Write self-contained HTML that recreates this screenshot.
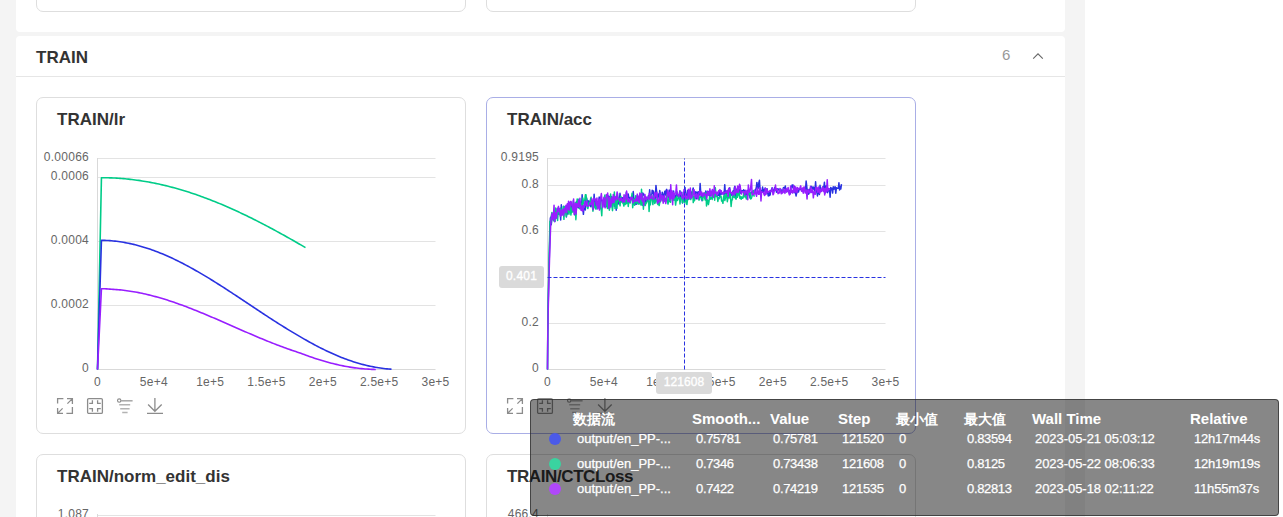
<!DOCTYPE html>
<html><head><meta charset="utf-8">
<style>
html,body{margin:0;padding:0;width:1283px;height:517px;overflow:hidden;background:#fff;font-family:"Liberation Sans",sans-serif;}
.a{position:absolute;}
.card{position:absolute;box-sizing:border-box;border:1px solid #dedede;border-radius:7px;background:#fff;}
.title{position:absolute;font-weight:bold;font-size:17px;color:#333;line-height:20px;white-space:nowrap;}
.tt{position:absolute;white-space:nowrap;color:#fff;line-height:16px;}
.th{font-weight:bold;font-size:15px;}
.td{font-size:13px;-webkit-text-stroke:0.25px #fff;}
.dot{position:absolute;width:12px;height:12px;border-radius:50%;}
</style></head><body>
<div class="a" style="left:0;top:0;width:1085px;height:517px;background:#f4f4f4"></div>
<div class="a" style="left:16px;top:-10px;width:1049px;height:42px;background:#fff;border-radius:4px"></div>
<div class="card" style="left:36px;top:-20px;width:430px;height:32px"></div>
<div class="card" style="left:486px;top:-20px;width:430px;height:32px"></div>
<div class="a" style="left:16px;top:36px;width:1049px;height:520px;background:#fff;border-radius:4px"></div>
<div class="title" style="left:36px;top:48px">TRAIN</div>
<div class="a" style="left:16px;top:76px;width:1049px;height:1px;background:#e6e6e6"></div>
<div class="a" style="left:1002px;top:46px;font-size:15px;color:#999;line-height:18px">6</div>
<svg class="a" style="left:1031px;top:51px" width="14" height="10"><path d="M2.2,7.6 L7,2.8 L11.8,7.6" fill="none" stroke="#666" stroke-width="1.1"/></svg>
<div class="card" style="left:36px;top:97px;width:430px;height:337px"></div>
<div class="card" style="left:486px;top:97px;width:430px;height:337px;border-color:#a9aee6"></div>
<div class="card" style="left:36px;top:454px;width:430px;height:200px"></div>
<div class="card" style="left:486px;top:454px;width:430px;height:200px"></div>
<div class="title" style="left:57px;top:110px">TRAIN/lr</div>
<div class="title" style="left:507px;top:110px">TRAIN/acc</div>
<div class="title" style="left:57px;top:467px">TRAIN/norm_edit_dis</div>
<div class="title" style="left:507px;top:467px;letter-spacing:-0.4px">TRAIN/CTCLoss</div>
<svg width="1283" height="517" style="position:absolute;left:0;top:0">
<g font-family="Liberation Sans, sans-serif" font-size="12" fill="#666" letter-spacing="0.25">
<line x1="97.5" y1="158.5" x2="435.5" y2="158.5" stroke="#e3e3e3" stroke-width="1"/><line x1="97.5" y1="177.5" x2="435.5" y2="177.5" stroke="#e3e3e3" stroke-width="1"/><line x1="97.5" y1="241.5" x2="435.5" y2="241.5" stroke="#e3e3e3" stroke-width="1"/><line x1="97.5" y1="305.5" x2="435.5" y2="305.5" stroke="#e3e3e3" stroke-width="1"/>
<line x1="97.5" y1="369.5" x2="435.5" y2="369.5" stroke="#d9d9d9"/>
<line x1="97.5" y1="158" x2="97.5" y2="369.5" stroke="#d9d9d9"/>
<text x="89" y="160.8" text-anchor="end">0.00066</text><text x="89" y="180.0" text-anchor="end">0.0006</text><text x="89" y="243.9" text-anchor="end">0.0004</text><text x="89" y="307.9" text-anchor="end">0.0002</text><text x="89" y="371.8" text-anchor="end">0</text>
<text x="97.5" y="385.5" text-anchor="middle">0</text><text x="153.8" y="385.5" text-anchor="middle">5e+4</text><text x="210.2" y="385.5" text-anchor="middle">1e+5</text><text x="266.5" y="385.5" text-anchor="middle">1.5e+5</text><text x="322.8" y="385.5" text-anchor="middle">2e+5</text><text x="379.2" y="385.5" text-anchor="middle">2.5e+5</text><text x="435.5" y="385.5" text-anchor="middle">3e+5</text>
<line x1="547.5" y1="158.5" x2="885.5" y2="158.5" stroke="#e3e3e3" stroke-width="1"/><line x1="547.5" y1="185.5" x2="885.5" y2="185.5" stroke="#e3e3e3" stroke-width="1"/><line x1="547.5" y1="231.5" x2="885.5" y2="231.5" stroke="#e3e3e3" stroke-width="1"/><line x1="547.5" y1="323.5" x2="885.5" y2="323.5" stroke="#e3e3e3" stroke-width="1"/>
<line x1="547.5" y1="369.5" x2="885.5" y2="369.5" stroke="#d9d9d9"/>
<line x1="547.5" y1="158" x2="547.5" y2="369.5" stroke="#d9d9d9"/>
<text x="539" y="160.8" text-anchor="end">0.9195</text><text x="539" y="188.2" text-anchor="end">0.8</text><text x="539" y="234.1" text-anchor="end">0.6</text><text x="539" y="325.9" text-anchor="end">0.2</text><text x="539" y="371.8" text-anchor="end">0</text>
<text x="547.5" y="385.5" text-anchor="middle">0</text><text x="603.8" y="385.5" text-anchor="middle">5e+4</text><text x="660.2" y="385.5" text-anchor="middle">1e+5</text><text x="716.5" y="385.5" text-anchor="middle">1.5e+5</text><text x="772.8" y="385.5" text-anchor="middle">2e+5</text><text x="829.2" y="385.5" text-anchor="middle">2.5e+5</text><text x="885.5" y="385.5" text-anchor="middle">3e+5</text>
</g>
<polyline fill="none" stroke="#00CC88" stroke-width="1.6" stroke-linejoin="round" points="97.50,369.50 101.44,177.68 103.13,177.69 104.82,177.71 106.51,177.74 108.20,177.79 109.89,177.84 111.58,177.90 113.27,177.98 114.96,178.06 116.65,178.16 118.34,178.27 120.03,178.39 121.72,178.52 123.41,178.66 125.10,178.81 126.79,178.97 128.48,179.15 130.17,179.33 131.86,179.52 133.55,179.73 135.24,179.95 136.93,180.17 138.62,180.41 140.31,180.66 142.00,180.92 143.69,181.19 145.38,181.47 147.07,181.76 148.76,182.06 150.45,182.38 152.14,182.70 153.83,183.03 155.52,183.38 157.21,183.73 158.90,184.09 160.59,184.47 162.28,184.85 163.97,185.25 165.66,185.65 167.35,186.07 169.04,186.49 170.73,186.93 172.42,187.37 174.11,187.83 175.80,188.29 177.49,188.77 179.18,189.25 180.87,189.74 182.56,190.25 184.25,190.76 185.94,191.28 187.63,191.81 189.32,192.36 191.01,192.91 192.70,193.47 194.39,194.04 196.08,194.61 197.77,195.20 199.46,195.80 201.15,196.40 202.84,197.02 204.53,197.64 206.22,198.27 207.91,198.91 209.60,199.56 211.29,200.22 212.98,200.88 214.67,201.56 216.36,202.24 218.05,202.93 219.74,203.63 221.43,204.34 223.12,205.05 224.81,205.77 226.50,206.50 228.19,207.24 229.88,207.99 231.57,208.74 233.26,209.50 234.95,210.27 236.64,211.04 238.33,211.83 240.02,212.61 241.71,213.41 243.40,214.21 245.09,215.02 246.78,215.84 248.47,216.66 250.16,217.49 251.85,218.33 253.54,219.17 255.23,220.02 256.92,220.88 258.61,221.74 260.30,222.61 261.99,223.48 263.68,224.36 265.37,225.24 267.06,226.13 268.75,227.03 270.44,227.93 272.13,228.83 273.82,229.74 275.51,230.66 277.20,231.58 278.89,232.51 280.58,233.44 282.27,234.37 283.96,235.31 285.65,236.26 287.34,237.20 289.03,238.16 290.72,239.11 292.41,240.07 294.10,241.04 295.79,242.01 297.48,242.98 299.17,243.95 300.86,244.93 302.55,245.91 304.24,246.90 305.48,247.62"/><polyline fill="none" stroke="#2932E1" stroke-width="1.6" stroke-linejoin="round" points="97.50,369.50 101.44,240.34 103.13,240.35 104.82,240.37 106.51,240.44 108.20,240.54 109.89,240.66 111.58,240.80 113.27,240.96 114.96,241.13 116.65,241.33 118.34,241.55 120.03,241.79 121.72,242.05 123.41,242.32 125.10,242.62 126.79,242.94 128.48,243.28 130.17,243.63 131.86,244.01 133.55,244.40 135.24,244.81 136.93,245.25 138.62,245.70 140.31,246.16 142.00,246.65 143.69,247.16 145.38,247.68 147.07,248.22 148.76,248.78 150.45,249.36 152.14,249.95 153.83,250.56 155.52,251.19 157.21,251.83 158.90,252.49 160.59,253.17 162.28,253.86 163.97,254.57 165.66,255.29 167.35,256.03 169.04,256.78 170.73,257.55 172.42,258.33 174.11,259.13 175.80,259.94 177.49,260.77 179.18,261.61 180.87,262.46 182.56,263.32 184.25,264.20 185.94,265.09 187.63,265.99 189.32,266.91 191.01,267.83 192.70,268.77 194.39,269.72 196.08,270.68 197.77,271.64 199.46,272.62 201.15,273.61 202.84,274.61 204.53,275.62 206.22,276.63 207.91,277.65 209.60,278.69 211.29,279.73 212.98,280.77 214.67,281.83 216.36,282.89 218.05,283.96 219.74,285.03 221.43,286.11 223.12,287.19 224.81,288.29 226.50,289.38 228.19,290.48 229.88,291.58 231.57,292.69 233.26,293.80 234.95,294.91 236.64,296.03 238.33,297.15 240.02,298.27 241.71,299.39 243.40,300.52 245.09,301.64 246.78,302.77 248.47,303.89 250.16,305.02 251.85,306.14 253.54,307.27 255.23,308.39 256.92,309.51 258.61,310.63 260.30,311.75 261.99,312.87 263.68,313.98 265.37,315.09 267.06,316.20 268.75,317.30 270.44,318.40 272.13,319.49 273.82,320.58 275.51,321.66 277.20,322.74 278.89,323.82 280.58,324.88 282.27,325.94 283.96,327.00 285.65,328.04 287.34,329.08 289.03,330.11 290.72,331.13 292.41,332.15 294.10,333.15 295.79,334.15 297.48,335.14 299.17,336.12 300.86,337.10 302.55,338.09 304.24,339.07 305.93,340.04 307.62,341.00 309.31,341.94 311.00,342.88 312.69,343.80 314.38,344.71 316.07,345.61 317.76,346.50 319.45,347.37 321.14,348.23 322.83,349.07 324.52,349.90 326.21,350.72 327.90,351.52 329.59,352.31 331.28,353.08 332.97,353.84 334.66,354.58 336.35,355.31 338.04,356.02 339.73,356.71 341.42,357.39 343.11,358.05 344.80,358.70 346.49,359.32 348.18,359.93 349.87,360.53 351.56,361.10 353.25,361.66 354.94,362.20 356.63,362.72 358.32,363.22 360.01,363.71 361.70,364.17 363.39,364.62 365.08,365.05 366.77,365.46 368.46,365.85 370.15,366.22 371.84,366.57 373.53,366.90 375.22,367.22 376.91,367.51 378.60,367.78 380.29,368.04 381.98,368.27 383.67,368.48 385.36,368.67 387.05,368.85 388.74,369.00 390.43,369.13 391.56,369.21"/><polyline fill="none" stroke="#981EFF" stroke-width="1.6" stroke-linejoin="round" points="97.50,369.50 101.44,288.78 103.13,288.78 104.82,288.78 106.51,288.88 108.20,289.00 109.89,289.12 111.58,289.23 113.27,289.35 114.96,289.46 116.65,289.59 118.34,289.74 120.03,289.90 121.72,290.07 123.41,290.26 125.10,290.47 126.79,290.69 128.48,290.93 130.17,291.18 131.86,291.44 133.55,291.72 135.24,292.02 136.93,292.33 138.62,292.65 140.31,292.99 142.00,293.34 143.69,293.70 145.38,294.08 147.07,294.47 148.76,294.87 150.45,295.29 152.14,295.72 153.83,296.16 155.52,296.61 157.21,297.08 158.90,297.56 160.59,298.05 162.28,298.55 163.97,299.06 165.66,299.58 167.35,300.11 169.04,300.66 170.73,301.21 172.42,301.78 174.11,302.35 175.80,302.93 177.49,303.52 179.18,304.13 180.87,304.74 182.56,305.35 184.25,305.98 185.94,306.61 187.63,307.26 189.32,307.91 191.01,308.56 192.70,309.23 194.39,309.90 196.08,310.57 197.77,311.26 199.46,311.94 201.15,312.64 202.84,313.34 204.53,314.04 206.22,314.75 207.91,315.46 209.60,316.18 211.29,316.90 212.98,317.62 214.67,318.35 216.36,319.08 218.05,319.81 219.74,320.54 221.43,321.28 223.12,322.02 224.81,322.76 226.50,323.50 228.19,324.24 229.88,324.99 231.57,325.73 233.26,326.47 234.95,327.22 236.64,327.96 238.33,328.70 240.02,329.44 241.71,330.18 243.40,330.92 245.09,331.66 246.78,332.39 248.47,333.12 250.16,333.85 251.85,334.58 253.54,335.30 255.23,336.02 256.92,336.73 258.61,337.44 260.30,338.15 261.99,338.85 263.68,339.55 265.37,340.25 267.06,340.93 268.75,341.62 270.44,342.29 272.13,342.96 273.82,343.63 275.51,344.29 277.20,344.94 278.89,345.58 280.58,346.22 282.27,346.85 283.96,347.47 285.65,348.09 287.34,348.69 289.03,349.29 290.72,349.88 292.41,350.46 294.10,351.04 295.79,351.60 297.48,352.16 299.17,352.70 300.86,353.30 302.55,353.94 304.24,354.57 305.93,355.20 307.62,355.81 309.31,356.41 311.00,357.00 312.69,357.58 314.38,358.15 316.07,358.71 317.76,359.25 319.45,359.79 321.14,360.31 322.83,360.81 324.52,361.31 326.21,361.79 327.90,362.26 329.59,362.72 331.28,363.16 332.97,363.59 334.66,364.00 336.35,364.40 338.04,364.79 339.73,365.16 341.42,365.52 343.11,365.86 344.80,366.19 346.49,366.50 348.18,366.80 349.87,367.09 351.56,367.35 353.25,367.61 354.94,367.84 356.63,368.07 358.32,368.27 360.01,368.46 361.70,368.64 363.39,368.80 365.08,368.94 366.77,369.06 368.46,369.17 370.15,369.27 371.84,369.35 373.53,369.41 375.22,369.46 375.79,369.47"/>
<polyline fill="none" stroke="#2932E1" stroke-width="1.5" stroke-linejoin="round" points="547.50,369.50 547.78,332.55 548.06,313.50 548.35,298.07 548.63,284.62 548.91,272.46 549.19,261.24 549.47,250.75 549.75,240.84 550.03,231.42 550.32,218.62 550.60,217.37 551.23,224.69 551.86,219.71 552.49,218.14 553.12,217.49 553.75,217.15 554.38,216.68 555.01,214.73 555.65,213.99 556.28,214.95 556.91,214.54 557.54,208.36 558.17,214.29 558.80,208.85 559.43,214.02 560.06,211.47 560.69,219.95 561.32,204.78 561.96,214.82 562.59,211.16 563.22,213.17 563.85,206.22 564.48,210.49 565.11,207.73 565.74,210.46 566.37,216.98 567.00,208.78 567.63,214.02 568.26,207.67 568.90,212.74 569.53,202.83 570.16,203.53 570.79,204.99 571.42,205.61 572.05,209.81 572.68,209.24 573.31,200.79 573.94,207.78 574.57,214.86 575.20,212.55 575.84,207.67 576.47,201.80 577.10,207.02 577.73,206.57 578.36,207.88 578.99,201.40 579.62,201.05 580.25,208.09 580.88,204.50 581.51,209.82 582.14,194.65 582.78,207.65 583.41,214.32 584.04,206.90 584.67,207.15 585.30,209.94 585.93,198.96 586.56,197.85 587.19,200.82 587.82,203.98 588.45,200.87 589.09,203.74 589.72,201.26 590.35,205.60 590.98,206.78 591.61,204.40 592.24,202.68 592.87,201.91 593.50,204.87 594.13,194.24 594.76,203.52 595.39,208.58 596.03,198.96 596.66,205.37 597.29,202.06 597.92,205.16 598.55,205.31 599.18,197.01 599.81,200.66 600.44,206.09 601.07,199.09 601.70,200.16 602.33,200.87 602.97,201.68 603.60,199.30 604.23,206.64 604.86,203.16 605.49,197.99 606.12,202.76 606.75,206.70 607.38,204.85 608.01,199.22 608.64,195.95 609.28,196.71 609.91,197.47 610.54,203.06 611.17,201.41 611.80,196.53 612.43,204.38 613.06,202.10 613.69,198.80 614.32,206.29 614.95,201.71 615.58,199.21 616.22,210.18 616.85,196.24 617.48,193.54 618.11,204.11 618.74,202.75 619.37,200.81 620.00,193.25 620.63,197.86 621.26,200.11 621.89,197.83 622.52,198.63 623.16,197.55 623.79,201.23 624.42,201.57 625.05,195.95 625.68,199.28 626.31,192.25 626.94,200.84 627.57,197.81 628.20,193.92 628.83,197.98 629.47,197.63 630.10,198.78 630.73,199.46 631.36,197.40 631.99,198.10 632.62,199.38 633.25,191.53 633.88,199.10 634.51,199.18 635.14,204.44 635.77,196.18 636.41,204.24 637.04,199.93 637.67,195.69 638.30,200.13 638.93,199.40 639.56,196.34 640.19,203.47 640.82,198.47 641.45,195.80 642.08,200.69 642.71,193.01 643.35,193.90 643.98,195.02 644.61,196.20 645.24,197.15 645.87,202.70 646.50,200.01 647.13,200.87 647.76,200.18 648.39,195.69 649.02,199.44 649.65,189.87 650.29,197.21 650.92,195.48 651.55,197.79 652.18,190.26 652.81,193.16 653.44,191.08 654.07,196.85 654.70,202.70 655.33,196.83 655.96,185.40 656.60,191.30 657.23,199.17 657.86,199.06 658.49,194.12 659.12,196.16 659.75,190.58 660.38,194.23 661.01,197.15 661.64,198.64 662.27,192.19 662.90,194.46 663.54,200.70 664.17,195.23 664.80,191.36 665.43,195.09 666.06,190.39 666.69,189.40 667.32,194.91 667.95,194.38 668.58,197.82 669.21,189.99 669.84,196.61 670.48,196.82 671.11,191.03 671.74,196.40 672.37,195.73 673.00,199.13 673.63,190.97 674.26,197.28 674.89,199.91 675.52,195.35 676.15,196.03 676.78,191.61 677.42,196.02 678.05,194.60 678.68,197.47 679.31,195.02 679.94,190.68 680.57,196.27 681.20,197.72 681.83,192.24 682.46,203.01 683.09,196.97 683.73,194.58 684.36,193.26 684.99,187.43 685.62,195.56 686.25,194.84 686.88,195.40 687.51,190.56 688.14,199.44 688.77,191.84 689.40,195.78 690.03,193.54 690.67,191.42 691.30,195.29 691.93,195.93 692.56,190.92 693.19,188.00 693.82,193.92 694.45,191.93 695.08,193.25 695.71,191.75 696.34,198.85 696.97,192.13 697.61,195.54 698.24,191.65 698.87,192.48 699.50,194.96 700.13,183.48 700.76,193.16 701.39,193.16 702.02,200.64 702.65,195.61 703.28,194.55 703.92,193.63 704.55,193.52 705.18,194.35 705.81,190.97 706.44,197.14 707.07,193.20 707.70,191.27 708.33,193.27 708.96,191.82 709.59,195.97 710.22,191.90 710.86,195.48 711.49,193.71 712.12,191.68 712.75,193.26 713.38,192.93 714.01,197.26 714.64,190.20 715.27,189.63 715.90,195.51 716.53,195.29 717.16,195.76 717.80,195.37 718.43,195.47 719.06,190.40 719.69,196.36 720.32,193.95 720.95,191.17 721.58,194.13 722.21,193.11 722.84,193.43 723.47,192.50 724.11,194.70 724.74,184.66 725.37,192.95 726.00,193.99 726.63,192.87 727.26,190.42 727.89,192.95 728.52,191.65 729.15,193.93 729.78,187.87 730.41,194.60 731.05,195.54 731.68,193.70 732.31,193.43 732.94,191.06 733.57,197.01 734.20,188.50 734.83,186.20 735.46,196.75 736.09,188.95 736.72,192.24 737.35,191.17 737.99,194.89 738.62,193.58 739.25,189.51 739.88,192.90 740.51,189.94 741.14,193.56 741.77,190.72 742.40,190.83 743.03,191.59 743.66,189.78 744.29,194.52 744.93,190.60 745.56,194.71 746.19,191.67 746.82,195.02 747.45,190.48 748.08,190.92 748.71,190.19 749.34,191.63 749.97,197.98 750.60,193.85 751.24,192.27 751.87,192.70 752.50,191.51 753.13,191.28 753.76,191.47 754.39,190.36 755.02,193.02 755.65,189.92 756.28,187.54 756.91,182.42 757.54,188.65 758.18,188.39 758.81,182.85 759.44,180.33 760.07,189.63 760.70,192.61 761.33,190.62 761.96,191.98 762.59,187.03 763.22,192.03 763.85,189.56 764.48,191.03 765.12,188.07 765.75,194.25 766.38,189.53 767.01,188.68 767.64,192.62 768.27,195.94 768.90,192.12 769.53,195.59 770.16,194.80 770.79,190.27 771.42,190.45 772.06,187.81 772.69,189.96 773.32,191.85 773.95,190.82 774.58,187.57 775.21,190.09 775.84,188.81 776.47,192.16 777.10,190.71 777.73,188.72 778.37,189.06 779.00,190.03 779.63,191.43 780.26,189.86 780.89,189.18 781.52,192.74 782.15,192.72 782.78,190.66 783.41,187.76 784.04,187.58 784.67,188.87 785.31,185.97 785.94,190.49 786.57,191.86 787.20,191.34 787.83,189.77 788.46,189.55 789.09,192.87 789.72,190.82 790.35,193.63 790.98,187.46 791.61,186.44 792.25,184.84 792.88,187.73 793.51,185.14 794.14,192.65 794.77,186.79 795.40,191.93 796.03,196.01 796.66,193.13 797.29,190.13 797.92,192.06 798.56,191.97 799.19,188.69 799.82,189.43 800.45,188.97 801.08,188.87 801.71,190.70 802.34,189.04 802.97,189.63 803.60,188.64 804.23,188.88 804.86,189.16 805.50,189.47 806.13,181.07 806.76,186.19 807.39,193.51 808.02,189.47 808.65,194.14 809.28,189.57 809.91,192.75 810.54,186.37 811.17,186.19 811.80,187.96 812.44,187.16 813.07,189.51 813.70,187.14 814.33,188.31 814.96,191.26 815.59,181.86 816.22,190.51 816.85,192.24 817.48,195.89 818.11,190.00 818.75,193.38 819.38,194.48 820.01,185.23 820.64,191.11 821.27,191.31 821.90,190.46 822.53,187.22 823.16,186.75 823.79,187.28 824.42,182.35 825.05,193.08 825.69,186.65 826.32,185.70 826.95,191.90 827.58,192.63 828.21,188.46 828.84,190.96 829.47,188.99 830.10,197.27 830.73,187.57 831.36,189.83 831.99,188.39 832.63,193.03 833.26,186.71 833.89,189.34 834.52,187.33 835.15,186.78 835.78,193.19 836.41,187.81 837.04,188.48 837.67,188.09 838.30,188.29 838.93,182.83 839.57,189.95 840.20,186.48 840.83,188.97 841.46,184.06"/><polyline fill="none" stroke="#00CC88" stroke-width="1.5" stroke-linejoin="round" points="547.50,369.50 547.78,329.61 548.06,309.03 548.35,292.38 548.63,277.85 548.91,264.72 549.19,252.61 549.47,241.28 549.75,230.58 550.03,221.21 550.67,223.57 551.30,216.22 551.93,212.40 552.56,217.50 553.19,215.93 553.82,220.82 554.45,221.04 555.08,221.43 555.71,207.96 556.34,211.52 556.98,216.33 557.61,220.41 558.24,209.12 558.87,212.21 559.50,209.76 560.13,214.82 560.76,207.97 561.39,215.06 562.02,209.67 562.65,214.18 563.28,206.62 563.92,219.35 564.55,206.87 565.18,211.51 565.81,212.08 566.44,216.29 567.07,209.94 567.70,206.18 568.33,210.97 568.96,214.17 569.59,207.09 570.22,204.47 570.86,215.02 571.49,211.36 572.12,207.60 572.75,212.06 573.38,209.46 574.01,208.13 574.64,211.84 575.27,202.46 575.90,219.63 576.53,205.33 577.17,199.12 577.80,205.77 578.43,199.17 579.06,204.96 579.69,208.81 580.32,203.84 580.95,203.59 581.58,206.27 582.21,205.36 582.84,197.98 583.47,203.87 584.11,200.30 584.74,200.28 585.37,194.83 586.00,194.70 586.63,200.71 587.26,207.44 587.89,208.57 588.52,205.09 589.15,202.45 589.78,204.34 590.41,199.76 591.05,197.34 591.68,204.50 592.31,205.55 592.94,211.16 593.57,205.45 594.20,202.28 594.83,206.95 595.46,207.75 596.09,209.10 596.72,204.41 597.36,202.37 597.99,203.31 598.62,204.03 599.25,203.68 599.88,200.13 600.51,208.63 601.14,208.51 601.77,215.71 602.40,201.75 603.03,201.43 603.66,200.03 604.30,197.66 604.93,194.91 605.56,206.54 606.19,202.77 606.82,195.71 607.45,208.46 608.08,200.10 608.71,203.58 609.34,210.22 609.97,207.07 610.60,194.06 611.24,201.92 611.87,206.00 612.50,210.62 613.13,204.30 613.76,201.94 614.39,191.89 615.02,208.49 615.65,201.45 616.28,198.07 616.91,208.34 617.54,196.61 618.18,200.85 618.81,198.14 619.44,202.30 620.07,205.86 620.70,196.30 621.33,198.93 621.96,202.47 622.59,202.88 623.22,202.78 623.85,206.10 624.49,201.18 625.12,204.60 625.75,195.89 626.38,203.64 627.01,202.56 627.64,199.38 628.27,206.44 628.90,199.41 629.53,201.02 630.16,203.03 630.79,199.40 631.43,198.68 632.06,193.33 632.69,207.73 633.32,202.12 633.95,198.98 634.58,205.19 635.21,199.72 635.84,195.78 636.47,202.97 637.10,201.73 637.73,203.69 638.37,202.08 639.00,204.35 639.63,202.70 640.26,193.89 640.89,205.03 641.52,189.26 642.15,205.24 642.78,197.82 643.41,209.26 644.04,199.25 644.67,203.79 645.31,205.43 645.94,203.08 646.57,202.93 647.20,200.88 647.83,200.89 648.46,196.87 649.09,211.58 649.72,200.98 650.35,204.86 650.98,195.38 651.62,196.68 652.25,200.41 652.88,204.61 653.51,197.22 654.14,196.67 654.77,203.49 655.40,201.56 656.03,199.80 656.66,199.88 657.29,202.96 657.92,204.55 658.56,201.21 659.19,205.55 659.82,202.11 660.45,201.77 661.08,197.25 661.71,199.76 662.34,199.89 662.97,200.72 663.60,200.47 664.23,201.27 664.86,198.70 665.50,199.51 666.13,198.11 666.76,194.80 667.39,201.30 668.02,204.11 668.65,200.48 669.28,196.65 669.91,201.71 670.54,202.29 671.17,198.17 671.81,195.02 672.44,192.63 673.07,199.17 673.70,200.22 674.33,199.23 674.96,197.58 675.59,205.09 676.22,200.50 676.85,196.35 677.48,200.56 678.11,198.47 678.75,198.31 679.38,196.36 680.01,203.95 680.64,197.74 681.27,197.65 681.90,197.39 682.53,202.77 683.16,194.69 683.79,199.39 684.42,202.70 685.05,199.90 685.69,195.68 686.32,204.03 686.95,204.52 687.58,199.21 688.21,199.31 688.84,198.70 689.47,191.70 690.10,195.93 690.73,199.52 691.36,196.78 692.00,197.09 692.63,190.77 693.26,202.60 693.89,196.61 694.52,200.74 695.15,196.53 695.78,195.90 696.41,196.74 697.04,196.40 697.67,197.97 698.30,195.16 698.94,200.03 699.57,199.65 700.20,196.30 700.83,197.20 701.46,197.52 702.09,199.36 702.72,200.46 703.35,193.35 703.98,194.70 704.61,197.72 705.24,199.97 705.88,192.41 706.51,205.99 707.14,199.64 707.77,200.48 708.40,204.56 709.03,201.27 709.66,196.26 710.29,199.27 710.92,197.41 711.55,197.98 712.18,199.53 712.82,194.25 713.45,196.82 714.08,195.88 714.71,200.23 715.34,187.83 715.97,196.56 716.60,195.36 717.23,196.43 717.86,201.49 718.49,197.73 719.13,198.62 719.76,196.97 720.39,196.79 721.02,196.07 721.65,201.08 722.28,200.93 722.91,203.36 723.54,197.18 724.17,195.20 724.80,200.53 725.43,197.72 726.07,193.89 726.70,195.23 727.33,201.74 727.96,197.77 728.59,191.96 729.22,197.96 729.85,192.96 730.48,196.61 731.11,206.48 731.74,199.87 732.37,199.86 733.01,191.89 733.64,195.08 734.27,197.13 734.90,196.92 735.53,198.76 736.16,199.07 736.79,190.45 737.42,197.20 738.05,195.02 738.68,191.30 739.32,193.35 739.95,198.36 740.58,196.82 741.21,199.24 741.84,196.86 742.47,198.30 743.10,197.88 743.73,193.17 744.36,194.48 744.99,196.95 745.62,195.40 746.26,198.97 746.89,198.10 747.52,195.66 748.15,194.89 748.78,193.09 749.41,194.16 750.04,192.67 750.67,198.88 751.30,198.52 751.93,196.51 752.56,194.11 753.20,190.37 753.83,195.36 754.46,196.64"/><polyline fill="none" stroke="#981EFF" stroke-width="1.5" stroke-linejoin="round" points="547.50,369.50 547.78,335.70 548.06,318.27 548.35,304.16 548.63,291.85 548.91,280.72 549.19,270.46 549.47,260.86 549.75,251.80 550.03,243.18 550.32,234.94 550.60,227.02 550.88,221.79 551.51,216.30 552.14,213.37 552.77,219.84 553.40,216.86 554.03,205.30 554.67,221.78 555.30,215.23 555.93,212.44 556.56,218.17 557.19,208.77 557.82,211.55 558.45,206.37 559.08,211.69 559.71,208.56 560.34,216.29 560.97,210.75 561.61,215.37 562.24,209.73 562.87,209.90 563.50,215.38 564.13,208.47 564.76,212.69 565.39,207.71 566.02,205.17 566.65,212.48 567.28,203.83 567.92,209.24 568.55,201.15 569.18,210.20 569.81,206.66 570.44,201.55 571.07,201.45 571.70,204.98 572.33,206.36 572.96,210.78 573.59,198.90 574.22,214.10 574.86,210.17 575.49,203.36 576.12,214.32 576.75,203.75 577.38,206.86 578.01,206.51 578.64,200.02 579.27,207.00 579.90,198.32 580.53,207.32 581.16,210.26 581.80,205.76 582.43,211.04 583.06,210.55 583.69,205.21 584.32,207.13 584.95,201.44 585.58,204.94 586.21,205.58 586.84,201.02 587.47,206.09 588.11,206.20 588.74,205.94 589.37,205.43 590.00,202.87 590.63,203.65 591.26,204.74 591.89,198.78 592.52,202.79 593.15,209.64 593.78,197.96 594.41,198.98 595.05,200.00 595.68,199.67 596.31,204.95 596.94,197.91 597.57,209.06 598.20,207.17 598.83,198.99 599.46,210.12 600.09,201.11 600.72,197.59 601.35,193.49 601.99,199.93 602.62,207.66 603.25,204.61 603.88,197.45 604.51,199.00 605.14,207.83 605.77,201.99 606.40,194.86 607.03,196.87 607.66,192.98 608.29,200.69 608.93,208.35 609.56,197.49 610.19,200.88 610.82,206.97 611.45,201.29 612.08,197.53 612.71,202.73 613.34,194.39 613.97,202.47 614.60,200.37 615.24,196.52 615.87,198.91 616.50,199.95 617.13,191.88 617.76,198.57 618.39,198.68 619.02,199.29 619.65,200.75 620.28,198.35 620.91,200.61 621.54,198.16 622.18,200.51 622.81,202.33 623.44,200.71 624.07,194.75 624.70,201.83 625.33,198.02 625.96,199.04 626.59,191.00 627.22,195.27 627.85,201.70 628.48,198.86 629.12,201.35 629.75,202.12 630.38,199.44 631.01,197.14 631.64,199.50 632.27,197.59 632.90,202.87 633.53,201.79 634.16,200.76 634.79,200.64 635.43,199.19 636.06,201.35 636.69,197.99 637.32,194.12 637.95,200.99 638.58,196.44 639.21,202.67 639.84,193.05 640.47,199.39 641.10,197.39 641.73,193.45 642.37,201.29 643.00,198.96 643.63,205.52 644.26,197.24 644.89,194.36 645.52,199.06 646.15,199.93 646.78,196.90 647.41,197.84 648.04,198.07 648.67,199.59 649.31,193.13 649.94,197.19 650.57,198.39 651.20,197.48 651.83,195.63 652.46,198.34 653.09,198.94 653.72,199.52 654.35,196.86 654.98,192.57 655.61,193.78 656.25,197.28 656.88,192.16 657.51,203.24 658.14,202.62 658.77,199.82 659.40,201.64 660.03,192.69 660.66,201.06 661.29,195.83 661.92,195.25 662.56,197.52 663.19,203.26 663.82,196.85 664.45,195.29 665.08,200.51 665.71,203.52 666.34,200.39 666.97,196.58 667.60,190.53 668.23,195.64 668.86,192.41 669.50,197.32 670.13,200.18 670.76,184.80 671.39,198.21 672.02,190.72 672.65,204.70 673.28,192.25 673.91,198.27 674.54,195.05 675.17,193.25 675.80,192.76 676.44,184.88 677.07,194.93 677.70,194.55 678.33,194.85 678.96,196.67 679.59,192.08 680.22,194.47 680.85,192.57 681.48,194.64 682.11,198.06 682.75,198.84 683.38,197.55 684.01,189.50 684.64,198.25 685.27,193.57 685.90,196.22 686.53,199.01 687.16,197.06 687.79,198.46 688.42,189.32 689.05,190.39 689.69,198.91 690.32,187.95 690.95,196.23 691.58,197.93 692.21,195.78 692.84,195.84 693.47,189.75 694.10,189.83 694.73,195.14 695.36,198.18 695.99,196.74 696.63,193.69 697.26,195.32 697.89,198.92 698.52,195.65 699.15,192.49 699.78,190.95 700.41,193.28 701.04,195.66 701.67,192.08 702.30,193.70 702.93,196.63 703.57,194.17 704.20,192.70 704.83,194.20 705.46,195.68 706.09,194.10 706.72,198.97 707.35,192.13 707.98,191.57 708.61,195.46 709.24,194.51 709.88,188.81 710.51,192.74 711.14,196.25 711.77,191.28 712.40,189.45 713.03,194.17 713.66,197.25 714.29,185.75 714.92,193.31 715.55,191.78 716.18,193.05 716.82,195.25 717.45,192.12 718.08,193.78 718.71,191.57 719.34,190.80 719.97,189.55 720.60,192.64 721.23,190.77 721.86,192.90 722.49,193.55 723.12,194.17 723.76,192.03 724.39,192.85 725.02,192.79 725.65,192.10 726.28,192.58 726.91,190.69 727.54,190.60 728.17,196.37 728.80,188.17 729.43,190.72 730.07,189.95 730.70,192.40 731.33,193.50 731.96,192.57 732.59,195.12 733.22,191.92 733.85,192.02 734.48,194.59 735.11,186.77 735.74,192.95 736.37,192.30 737.01,192.04 737.64,186.08 738.27,192.47 738.90,188.47 739.53,184.25 740.16,185.81 740.79,191.31 741.42,193.94 742.05,192.14 742.68,191.76 743.31,191.74 743.95,191.63 744.58,195.08 745.21,192.26 745.84,190.23 746.47,192.85 747.10,191.26 747.73,199.74 748.36,184.88 748.99,191.30 749.62,191.91 750.25,189.99 750.89,185.54 751.52,179.43 752.15,194.99 752.78,193.70 753.41,193.82 754.04,194.50 754.67,190.37 755.30,191.45 755.93,194.38 756.56,196.30 757.20,187.96 757.83,190.95 758.46,194.32 759.09,194.36 759.72,187.94 760.35,188.42 760.98,201.04 761.61,191.81 762.24,192.17 762.87,192.13 763.50,192.61 764.14,194.75 764.77,195.50 765.40,188.37 766.03,193.93 766.66,189.29 767.29,190.41 767.92,192.53 768.55,191.94 769.18,191.38 769.81,190.64 770.44,191.70 771.08,191.55 771.71,190.76 772.34,188.27 772.97,194.67 773.60,193.86 774.23,190.83 774.86,190.36 775.49,185.05 776.12,190.26 776.75,188.89 777.39,189.79 778.02,193.69 778.65,193.38 779.28,192.93 779.91,188.43 780.54,189.43 781.17,193.76 781.80,193.57 782.43,191.64 783.06,192.52 783.69,188.73 784.33,191.17 784.96,193.36 785.59,190.42 786.22,188.77 786.85,191.75 787.48,190.43 788.11,187.43 788.74,192.37 789.37,194.87 790.00,194.23 790.63,186.02 791.27,192.32 791.90,190.36 792.53,193.01 793.16,192.07 793.79,185.49 794.42,190.96 795.05,192.49 795.68,186.95 796.31,189.63 796.94,192.66 797.57,187.45 798.21,189.00 798.84,189.35 799.47,188.30 800.10,187.33 800.73,185.89 801.36,191.01 801.99,191.36 802.62,188.08 803.25,193.16 803.88,186.98 804.52,187.27 805.15,192.96 805.78,190.19 806.41,190.58 807.04,198.95 807.67,190.55 808.30,189.68 808.93,192.20 809.56,192.61 810.19,191.01 810.82,186.72 811.46,192.49 812.09,191.74 812.72,189.58 813.35,197.82 813.98,192.02 814.61,192.23 815.24,194.30 815.87,187.62 816.50,187.26 817.13,188.65 817.76,192.35 818.40,186.88 819.03,189.61 819.66,193.02 820.29,189.26 820.92,191.65 821.55,191.19 822.18,188.53 822.81,186.89 823.44,191.47 824.07,188.72 824.71,194.89 825.34,188.20 825.97,191.90 826.60,190.03 827.23,179.70 827.86,190.91 828.49,188.88 829.12,188.95 829.75,189.90"/>
<line x1="547.5" y1="277.5" x2="885.5" y2="277.5" stroke="#2932E1" stroke-width="1" stroke-dasharray="4,2"/>
<line x1="684.5" y1="369.5" x2="684.5" y2="158.5" stroke="#2932E1" stroke-width="1" stroke-dasharray="4,2"/>
<rect x="499" y="266" width="45" height="22" rx="3" fill="#dadada"/>
<text x="521.5" y="280" font-family="Liberation Sans, sans-serif" font-size="12" fill="#fff" stroke="#fff" stroke-width="0.35" text-anchor="middle" letter-spacing="0.2">0.401</text>
<rect x="656" y="372" width="56" height="22" rx="3" fill="#dadada"/>
<text x="684" y="386" font-family="Liberation Sans, sans-serif" font-size="12" fill="#fff" stroke="#fff" stroke-width="0.35" text-anchor="middle" letter-spacing="0.1">121608</text>
<g transform="translate(57,398)" fill="none" stroke="#8c8c8c" stroke-width="1.3">
<path d="M0.6,5.6 V0.6 H6.4 M10,0.6 H15.4 V6 M15.4,0.6 L10.4,5.6 M0.6,10 V15.4 H6 M0.6,15.4 L5.6,10.4 M9.4,15.4 H15.4 V9"/>
</g>
<g transform="translate(87,398)" fill="none" stroke="#8c8c8c" stroke-width="1.3">
<rect x="0.6" y="0.6" width="14.8" height="14.8" rx="1.2"/>
<path d="M2.2,5.3 H5.4 V2.2 M10.6,2.2 V5.3 H13.8 M2.2,10.7 H5.4 V13.8 M10.6,13.8 V10.7 H13.8"/>
</g>
<g transform="translate(117,398)" fill="none" stroke="#b3b3b3" stroke-width="1.5">
<circle cx="2.2" cy="2.6" r="1.7" stroke="#8c8c8c" stroke-width="1.1"/>
<path d="M4,2.8 H15.6" stroke="#a6a6a6"/>
<path d="M2.2,6.7 H13.2 M3.2,10.8 H12.6 M5.2,14.6 H10.6"/>
</g>
<g transform="translate(147,398)" fill="none" stroke="#8c8c8c" stroke-width="1.3">
<path d="M7.9,0 V13.3 M1.1,6.5 L7.9,13.3 L14.7,6.5 M0,15.4 H16"/>
</g>
<g transform="translate(507,398)" fill="none" stroke="#8c8c8c" stroke-width="1.3">
<path d="M0.6,5.6 V0.6 H6.4 M10,0.6 H15.4 V6 M15.4,0.6 L10.4,5.6 M0.6,10 V15.4 H6 M0.6,15.4 L5.6,10.4 M9.4,15.4 H15.4 V9"/>
</g>
<g transform="translate(537,398)" fill="none" stroke="#8c8c8c" stroke-width="1.3">
<rect x="0.6" y="0.6" width="14.8" height="14.8" rx="1.2"/>
<path d="M2.2,5.3 H5.4 V2.2 M10.6,2.2 V5.3 H13.8 M2.2,10.7 H5.4 V13.8 M10.6,13.8 V10.7 H13.8"/>
</g>
<g transform="translate(567,398)" fill="none" stroke="#b3b3b3" stroke-width="1.5">
<circle cx="2.2" cy="2.6" r="1.7" stroke="#8c8c8c" stroke-width="1.1"/>
<path d="M4,2.8 H15.6" stroke="#a6a6a6"/>
<path d="M2.2,6.7 H13.2 M3.2,10.8 H12.6 M5.2,14.6 H10.6"/>
</g>
<g transform="translate(597,398)" fill="none" stroke="#8c8c8c" stroke-width="1.3">
<path d="M7.9,0 V13.3 M1.1,6.5 L7.9,13.3 L14.7,6.5 M0,15.4 H16"/>
</g>
<g font-family="Liberation Sans, sans-serif" font-size="12" fill="#666" letter-spacing="0.25">
<line x1="97.5" y1="515.5" x2="435.5" y2="515.5" stroke="#e3e3e3"/>
<line x1="547.5" y1="515.5" x2="885.5" y2="515.5" stroke="#e3e3e3"/>
<text x="89" y="518" text-anchor="end">1.087</text><line x1="97.5" y1="514" x2="97.5" y2="517" stroke="#d9d9d9"/><line x1="547.5" y1="514" x2="547.5" y2="517" stroke="#d9d9d9"/>
<text x="539" y="518" text-anchor="end">466.4</text>
</g>
</svg>
<div class="a" style="left:530px;top:399px;width:749px;height:117px;box-sizing:border-box;background:rgba(0,0,0,0.47);border:1px solid rgba(45,45,45,0.75);border-radius:4px"></div>
<div class="tt th" style="left:573px;top:411px; font-size:14px">数据流</div>
<div class="tt th" style="left:692px;top:411px">Smooth...</div>
<div class="tt th" style="left:770px;top:411px">Value</div>
<div class="tt th" style="left:838px;top:411px">Step</div>
<div class="tt th" style="left:896px;top:411px; font-size:14px">最小值</div>
<div class="tt th" style="left:964px;top:411px; font-size:14px">最大值</div>
<div class="tt th" style="left:1032px;top:411px">Wall Time</div>
<div class="tt th" style="left:1190px;top:411px">Relative</div>
<div class="dot" style="left:549px;top:432.5px;background:#4b5ae8"></div>
<div class="tt td" style="left:577px;top:431.0px;letter-spacing:0px">output/en_PP-...</div>
<div class="tt td" style="left:696px;top:431.0px;letter-spacing:-0.35px">0.75781</div>
<div class="tt td" style="left:773px;top:431.0px;letter-spacing:-0.35px">0.75781</div>
<div class="tt td" style="left:842px;top:431.0px;letter-spacing:-0.27px">121520</div>
<div class="tt td" style="left:899px;top:431.0px;letter-spacing:0px">0</div>
<div class="tt td" style="left:967px;top:431.0px;letter-spacing:-0.35px">0.83594</div>
<div class="tt td" style="left:1035px;top:431.0px;letter-spacing:-0.05px">2023-05-21 05:03:12</div>
<div class="tt td" style="left:1194px;top:431.0px;letter-spacing:-0.2px">12h17m44s</div>
<div class="dot" style="left:549px;top:457.5px;background:#3ad3a0"></div>
<div class="tt td" style="left:577px;top:456.0px;letter-spacing:0px">output/en_PP-...</div>
<div class="tt td" style="left:696px;top:456.0px;letter-spacing:-0.35px">0.7346</div>
<div class="tt td" style="left:773px;top:456.0px;letter-spacing:-0.35px">0.73438</div>
<div class="tt td" style="left:842px;top:456.0px;letter-spacing:-0.27px">121608</div>
<div class="tt td" style="left:899px;top:456.0px;letter-spacing:0px">0</div>
<div class="tt td" style="left:967px;top:456.0px;letter-spacing:-0.35px">0.8125</div>
<div class="tt td" style="left:1035px;top:456.0px;letter-spacing:-0.05px">2023-05-22 08:06:33</div>
<div class="tt td" style="left:1194px;top:456.0px;letter-spacing:-0.2px">12h19m19s</div>
<div class="dot" style="left:549px;top:482.5px;background:#b048fa"></div>
<div class="tt td" style="left:577px;top:481.0px;letter-spacing:0px">output/en_PP-...</div>
<div class="tt td" style="left:696px;top:481.0px;letter-spacing:-0.35px">0.7422</div>
<div class="tt td" style="left:773px;top:481.0px;letter-spacing:-0.35px">0.74219</div>
<div class="tt td" style="left:842px;top:481.0px;letter-spacing:-0.27px">121535</div>
<div class="tt td" style="left:899px;top:481.0px;letter-spacing:0px">0</div>
<div class="tt td" style="left:967px;top:481.0px;letter-spacing:-0.35px">0.82813</div>
<div class="tt td" style="left:1035px;top:481.0px;letter-spacing:-0.05px">2023-05-18 02:11:22</div>
<div class="tt td" style="left:1194px;top:481.0px;letter-spacing:-0.2px">11h55m37s</div>
</body></html>
